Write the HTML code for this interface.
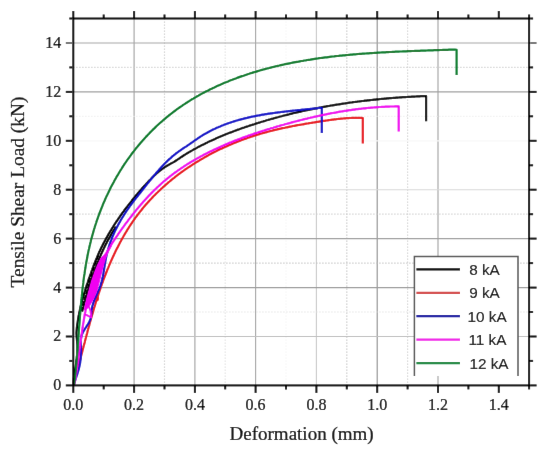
<!DOCTYPE html><html><head><meta charset="utf-8"><style>html,body{margin:0;padding:0;background:#fff}svg{display:block}</style></head><body>
<svg width="550" height="454" viewBox="0 0 550 454">
<defs><filter id="soft" x="0" y="0" width="100%" height="100%"><feConvolveMatrix order="3" kernelMatrix="0.00163 0.03713 0.00163 0.03713 0.84497 0.03713 0.00163 0.03713 0.00163" divisor="1" edgeMode="duplicate" preserveAlpha="true"/></filter></defs>
<g filter="url(#soft)">
<rect width="550" height="454" fill="#fff"/>
<g><line x1="134.1" y1="18.5" x2="134.1" y2="385.4" stroke="#a4a4a4" stroke-width="1.15"/><line x1="194.9" y1="18.5" x2="194.9" y2="385.4" stroke="#a4a4a4" stroke-width="1.15"/><line x1="255.6" y1="18.5" x2="255.6" y2="385.4" stroke="#a8a8a8" stroke-width="1.15"/><line x1="316.4" y1="18.5" x2="316.4" y2="385.4" stroke="#cccccc" stroke-width="1.15"/><line x1="377.2" y1="18.5" x2="377.2" y2="385.4" stroke="#909090" stroke-width="1.15"/><line x1="438.0" y1="18.5" x2="438.0" y2="385.4" stroke="#a4a4a4" stroke-width="1.15"/><line x1="164.5" y1="18.5" x2="164.5" y2="385.4" stroke="#cccccc" stroke-width="1.2" stroke-dasharray="1.2 1.8"/><line x1="225.2" y1="18.5" x2="225.2" y2="385.4" stroke="#e0e0e0" stroke-width="1.2" stroke-dasharray="1.2 1.8"/><line x1="286.0" y1="18.5" x2="286.0" y2="385.4" stroke="#f4f4f4" stroke-width="1.2" stroke-dasharray="1.2 1.8"/><line x1="346.8" y1="18.5" x2="346.8" y2="385.4" stroke="#c4c4c4" stroke-width="1.2" stroke-dasharray="1.2 1.8"/><line x1="407.6" y1="18.5" x2="407.6" y2="385.4" stroke="#d0d0d0" stroke-width="1.2" stroke-dasharray="1.2 1.8"/><line x1="73.3" y1="336.5" x2="529.1" y2="336.5" stroke="#c0c0c0" stroke-width="1.15"/><line x1="73.3" y1="287.6" x2="529.1" y2="287.6" stroke="#9c9c9c" stroke-width="1.15"/><line x1="73.3" y1="238.6" x2="529.1" y2="238.6" stroke="#a0a0a0" stroke-width="1.15"/><line x1="73.3" y1="189.7" x2="529.1" y2="189.7" stroke="#d8d8d8" stroke-width="1.15"/><line x1="73.3" y1="140.8" x2="529.1" y2="140.8" stroke="#f7f7f7" stroke-width="1.15"/><line x1="73.3" y1="91.9" x2="529.1" y2="91.9" stroke="#a0a0a0" stroke-width="1.15"/><line x1="73.3" y1="43.0" x2="529.1" y2="43.0" stroke="#a8a8a8" stroke-width="1.15"/><line x1="73.3" y1="312.0" x2="529.1" y2="312.0" stroke="#e0e0e0" stroke-width="1.2" stroke-dasharray="1.2 1.8"/><line x1="73.3" y1="263.1" x2="529.1" y2="263.1" stroke="#c0c0c0" stroke-width="1.2" stroke-dasharray="1.2 1.8"/><line x1="73.3" y1="214.2" x2="529.1" y2="214.2" stroke="#cccccc" stroke-width="1.2" stroke-dasharray="1.2 1.8"/><line x1="73.3" y1="116.3" x2="529.1" y2="116.3" stroke="#efefef" stroke-width="1.2" stroke-dasharray="1.2 1.8"/><line x1="73.3" y1="67.4" x2="529.1" y2="67.4" stroke="#cccccc" stroke-width="1.2" stroke-dasharray="1.2 1.8"/></g>
<rect x="414.4" y="256.5" width="103.6" height="119.5" fill="#fff"/>
<path d="M414.4,376.0 L414.4,256.5 L518.0,256.5 L518.0,376.0" fill="none" stroke="#555" stroke-width="1.5"/>
<g><path d="M73.3,385.5 L73.4,384.2 L73.5,382.9 L73.6,381.6 L73.7,380.3 L73.8,379.1 L74.0,377.8 L74.1,376.5 L74.3,375.2 L74.5,373.9 L74.7,372.6 L74.9,371.3 L75.1,370.0 L75.3,368.7 L75.5,367.4 L75.7,366.1 L75.9,364.8 L76.1,363.5 L76.3,362.2 L76.4,360.9 L76.6,359.6 L76.8,358.3 L76.9,357.0 L77.1,355.6 L77.2,354.3 L77.3,353.1 L77.3,351.8 L77.4,350.5 L77.4,349.2 L77.4,347.9 L77.4,346.6 L77.4,345.3 L77.3,344.0 L77.2,342.7 L77.1,341.4 L77.0,340.1 L76.9,338.9 L76.7,337.6 L76.6,336.3 L76.6,335.0 L76.5,333.8 L76.5,332.5 L76.6,331.2 L76.7,329.9 L76.8,328.7 L76.9,327.4 L77.1,326.1 L77.2,324.9 L77.4,323.6 L77.6,322.3 L77.8,321.1 L78.0,319.8 L78.2,318.5 L78.4,317.2 L78.6,316.0 L78.9,314.7 L79.1,313.4 L79.4,312.1 L79.7,310.9 L80.0,309.6 L80.2,308.3 L80.5,307.1 L80.8,305.8 L81.2,304.5 L81.5,303.3 L81.8,302.0 L82.1,300.7 L82.5,299.5 L82.8,298.2 L83.2,296.9 L83.6,295.7 L83.9,294.4 L84.3,293.1 L84.7,291.9 L85.1,290.6 L85.4,289.4 L85.8,288.1 L86.2,286.9 L86.6,285.6 L87.0,284.4 L87.5,283.1 L87.9,281.9 L88.3,280.6 L88.7,279.4 L89.1,278.2 L89.6,276.9 L90.0,275.7 L90.4,274.5 L90.9,273.3 L91.3,272.0 L91.7,270.8 L92.2,269.6 L92.6,268.4 L93.1,267.2 L93.5,266.0 L94.0,264.7 L94.5,263.5 L94.9,262.3 L95.4,261.1 L95.9,259.9 L96.4,258.7 L96.9,257.6 L97.4,256.4 L97.9,255.2 L98.4,254.0 L98.9,252.8 L99.5,251.6 L100.0,250.5 L100.6,249.3 L101.1,248.1 L101.7,246.9 L102.3,245.8 L102.9,244.6 L103.4,243.4 L104.1,242.3 L104.7,241.1 L105.3,240.0 L105.9,238.8 L106.6,237.7 L107.2,236.5 L107.9,235.4 L108.5,234.2 L109.2,233.1 L109.8,232.0 L110.5,230.9 L111.2,229.8 L111.9,228.6 L112.6,227.5 L113.3,226.4 L114.0,225.3 L114.7,224.2 L115.4,223.1 L116.1,222.0 L116.8,221.0 L117.6,219.9 L118.3,218.8 L119.0,217.7 L119.8,216.7 L120.5,215.6 L121.3,214.5 L122.0,213.5 L122.8,212.4 L123.6,211.4 L124.3,210.3 L125.1,209.3 L125.9,208.2 L126.7,207.2 L127.5,206.2 L128.3,205.1 L129.1,204.1 L129.9,203.1 L130.7,202.1 L131.5,201.1 L132.3,200.0 L133.1,199.0 L133.9,198.0 L134.8,197.0 L135.6,196.0 L136.4,195.0 L137.3,194.0 L138.1,193.0 L139.0,192.0 L139.8,191.0 L140.7,190.1 L141.5,189.1 L142.4,188.1 L143.3,187.1 L144.1,186.1 L145.0,185.2 L145.9,184.2 L146.8,183.2 L147.7,182.3 L148.6,181.3 L149.5,180.4 L150.4,179.5 L151.3,178.5 L152.2,177.6 L153.2,176.7 L154.1,175.8 L155.1,174.9 L156.0,174.0 L157.0,173.2 L158.0,172.3 L159.0,171.5 L160.0,170.7 L161.0,169.9 L162.0,169.1 L163.1,168.4 L164.2,167.6 L165.2,166.9 L166.3,166.2 L167.4,165.5 L168.6,164.9 L169.7,164.2 L170.8,163.6 L172.0,163.0 L173.1,162.4 L174.3,161.7 L175.4,161.0 L176.5,160.3 L177.5,159.6 L178.6,158.9 L179.7,158.2 L180.7,157.4 L181.8,156.7 L182.9,156.0 L184.0,155.3 L185.1,154.6 L186.2,153.9 L187.3,153.2 L188.5,152.5 L189.6,151.9 L190.7,151.2 L191.8,150.6 L193.0,149.9 L194.1,149.3 L195.3,148.7 L196.4,148.1 L197.6,147.4 L198.7,146.8 L199.9,146.2 L201.0,145.6 L202.2,145.0 L203.4,144.4 L204.5,143.9 L205.7,143.3 L206.9,142.7 L208.0,142.1 L209.2,141.6 L210.4,141.0 L211.6,140.5 L212.8,139.9 L213.9,139.4 L215.1,138.9 L216.3,138.3 L217.5,137.8 L218.7,137.3 L219.9,136.8 L221.1,136.3 L222.3,135.8 L223.5,135.3 L224.7,134.8 L225.9,134.3 L227.1,133.8 L228.4,133.3 L229.6,132.8 L230.8,132.4 L232.0,131.9 L233.2,131.4 L234.4,131.0 L235.7,130.5 L236.9,130.1 L238.1,129.6 L239.3,129.2 L240.6,128.7 L241.8,128.3 L243.0,127.9 L244.3,127.5 L245.5,127.0 L246.7,126.6 L248.0,126.2 L249.2,125.8 L250.4,125.4 L251.7,125.0 L252.9,124.6 L254.2,124.2 L255.4,123.8 L256.6,123.4 L257.9,123.0 L259.1,122.6 L260.4,122.2 L261.6,121.8 L262.9,121.5 L264.1,121.1 L265.4,120.7 L266.6,120.3 L267.9,120.0 L269.1,119.6 L270.4,119.3 L271.6,118.9 L272.9,118.6 L274.1,118.2 L275.4,117.9 L276.7,117.5 L277.9,117.2 L279.2,116.8 L280.4,116.5 L281.7,116.2 L283.0,115.8 L284.2,115.5 L285.5,115.2 L286.8,114.9 L288.0,114.6 L289.3,114.3 L290.5,113.9 L291.8,113.6 L293.1,113.3 L294.4,113.0 L295.6,112.7 L296.9,112.4 L298.2,112.1 L299.4,111.9 L300.7,111.6 L302.0,111.3 L303.3,111.0 L304.5,110.7 L305.8,110.4 L307.1,110.2 L308.4,109.9 L309.6,109.6 L310.9,109.4 L312.2,109.1 L313.5,108.9 L314.7,108.6 L316.0,108.3 L317.3,108.1 L318.6,107.8 L319.9,107.6 L321.1,107.4 L322.4,107.1 L323.7,106.9 L325.0,106.7 L326.3,106.4 L327.6,106.2 L328.8,106.0 L330.1,105.7 L331.4,105.5 L332.7,105.3 L334.0,105.1 L335.3,104.9 L336.6,104.7 L337.8,104.5 L339.1,104.3 L340.4,104.1 L341.7,103.9 L343.0,103.7 L344.3,103.5 L345.6,103.3 L346.9,103.1 L348.2,102.9 L349.5,102.7 L350.8,102.5 L352.0,102.4 L353.3,102.2 L354.6,102.0 L355.9,101.8 L357.2,101.7 L358.5,101.5 L359.8,101.3 L361.1,101.2 L362.4,101.0 L363.7,100.9 L365.0,100.7 L366.3,100.6 L367.6,100.4 L368.9,100.3 L370.2,100.1 L371.5,100.0 L372.8,99.8 L374.1,99.7 L375.4,99.6 L376.7,99.4 L378.0,99.3 L379.3,99.2 L380.6,99.0 L381.9,98.9 L383.2,98.8 L384.5,98.7 L385.8,98.6 L387.1,98.4 L388.4,98.3 L389.7,98.2 L391.0,98.1 L392.3,98.0 L393.6,97.9 L394.9,97.8 L396.2,97.7 L397.5,97.6 L398.8,97.5 L400.1,97.4 L401.4,97.3 L402.7,97.2 L404.0,97.2 L405.3,97.1 L406.6,97.0 L407.9,96.9 L409.2,96.8 L410.5,96.8 L411.8,96.7 L413.1,96.6 L414.4,96.6 L415.7,96.5 L417.0,96.4 L418.3,96.4 L419.6,96.3 L420.9,96.2 L422.2,96.2 L423.5,96.1 L424.8,96.1 L426.1,96.2 L426.1,121.3" fill="none" stroke="#000000" stroke-width="2.2" stroke-linejoin="round"/><path d="M82.0,311.5 L82.3,310.8 L82.5,310.1 L82.7,309.3 L82.9,308.6 L83.1,307.8 L83.3,307.1 L83.5,306.3 L83.7,305.6 L83.9,304.8 L84.1,304.1 L84.3,303.3 L84.5,302.6 L84.7,301.8 L84.9,301.1 L85.2,300.3 L85.4,299.6 L85.6,298.8 L85.8,298.1 L86.0,297.4 L86.2,296.6 L86.4,295.9 L86.6,295.1 L86.9,294.4 L87.1,293.6 L87.3,292.9 L87.5,292.2 L87.7,291.4 L87.9,290.7 L88.2,289.9 L88.4,289.2 L88.6,288.5 L88.8,287.7 L89.1,287.0 L89.3,286.2 L89.5,285.5 L89.8,284.8 L90.0,284.0 L90.2,283.3 L90.5,282.6 L90.7,281.8 L90.9,281.1 L91.2,280.4 L91.4,279.6 L91.7,278.9 L91.9,278.2 L92.2,277.4 L92.4,276.7 L92.6,276.0 L92.9,275.3 L93.2,274.5 L93.4,273.8 L93.7,273.1 L93.9,272.4 L94.2,271.6 L94.4,270.9 L94.7,270.2 L95.0,269.5 L95.2,268.7 L95.5,268.0 L95.8,267.3 L96.1,266.6 L96.3,265.9 L96.6,265.1 L96.9,264.4 L97.2,263.7 L97.5,263.0 L97.7,262.3 L98.0,261.6 L98.3,260.9 L98.6,260.1 L98.9,259.4 L99.2,258.7 L99.5,258.0 L99.8,257.3 L100.1,256.6 L100.4,255.9 L100.7,255.2 L101.0,254.5 L101.3,253.8 L101.7,253.1 L102.0,252.4 L102.3,251.7 L102.6,251.0 L102.9,250.3 L103.3,249.6 L103.6,248.9 L103.9,248.2 L104.3,247.5 L104.6,246.8 L104.9,246.1 L105.3,245.4 L105.6,244.7 L106.0,244.1 L106.3,243.4 L106.7,242.7 L107.0,242.0 L107.4,241.3 L107.8,240.6 L108.1,239.9 L108.5,239.3 L108.9,238.6 L109.2,237.9 L109.6,237.2 L110.0,236.6 L110.4,235.9 L110.8,235.2 L111.1,234.5 L111.5,233.9 L111.9,233.2 L112.3,232.5 L112.7,231.9 L113.1,231.2 L113.5,230.5 L114.0,229.9 L114.4,229.2 L114.8,228.6 L115.2,227.9 L115.6,227.2 L115.8,226.5" fill="none" stroke="#000" stroke-width="2.2" stroke-linejoin="round"/><path d="M80.6,311.5 L80.7,310.7 L80.9,310.0 L81.2,309.3 L81.4,308.6 L81.7,307.9 L81.9,307.2 L82.1,306.5 L82.3,305.7 L82.6,305.0 L82.8,304.3 L83.0,303.6 L83.2,302.9 L83.5,302.2 L83.7,301.4 L83.9,300.7 L84.1,300.0 L84.3,299.3 L84.6,298.5 L84.8,297.8 L85.0,297.1 L85.2,296.4 L85.4,295.7 L85.6,294.9 L85.8,294.2 L86.0,293.5 L86.2,292.8 L86.4,292.0 L86.7,291.3 L86.9,290.6 L87.1,289.9 L87.3,289.1 L87.5,288.4 L87.7,287.7 L87.9,287.0 L88.1,286.2 L88.3,285.5 L88.5,284.8 L88.7,284.1 L88.9,283.3 L89.2,282.6 L89.4,281.9 L89.6,281.2 L89.8,280.5 L90.0,279.7 L90.2,279.0 L90.4,278.3 L90.7,277.6 L90.9,276.9 L91.1,276.1 L91.3,275.4 L91.5,274.7 L91.8,274.0 L92.0,273.3 L92.2,272.5 L92.5,271.8 L92.7,271.1 L92.9,270.4 L93.2,269.7 L93.4,269.0 L93.6,268.3 L93.9,267.6 L94.1,266.8 L94.4,266.1 L94.6,265.4 L94.9,264.7 L95.1,264.0 L95.4,263.3 L95.7,262.6 L95.9,261.9 L96.2,261.2 L96.5,260.5 L96.7,259.8 L97.0,259.1 L97.3,258.4 L97.6,257.7 L97.9,257.0 L98.2,256.3 L98.5,255.6 L98.9,255.0" fill="none" stroke="#000" stroke-width="1.6" stroke-dasharray="5 1" stroke-linejoin="round"/><path d="M73.3,385.5 L73.3,384.4 L73.6,383.4 L73.9,382.3 L74.2,381.2 L74.5,380.2 L74.8,379.1 L75.1,378.0 L75.4,377.0 L75.7,375.9 L76.0,374.9 L76.3,373.8 L76.6,372.7 L76.9,371.7 L77.2,370.6 L77.5,369.5 L77.8,368.5 L78.1,367.4 L78.3,366.4 L78.6,365.3 L78.9,364.2 L79.2,363.2 L79.5,362.1 L79.8,361.0 L80.0,360.0 L80.3,358.9 L80.6,357.9 L80.9,356.8 L81.2,355.7 L81.4,354.7 L81.7,353.6 L82.0,352.6 L82.3,351.5 L82.5,350.5 L82.8,349.4 L83.1,348.3 L83.4,347.3 L83.6,346.2 L83.9,345.2 L84.2,344.1 L84.5,343.1 L84.8,342.0 L85.0,340.9 L85.3,339.9 L85.6,338.8 L85.9,337.8 L86.1,336.7 L86.4,335.7 L86.7,334.6 L87.0,333.6 L87.3,332.5 L87.5,331.5 L87.8,330.4 L88.1,329.4 L88.4,328.3 L88.7,327.3 L89.0,326.2 L89.3,325.2 L89.5,324.1 L89.8,323.1 L90.1,322.0 L90.4,320.9 L90.7,319.9 L91.0,318.8 L91.3,317.8 L91.6,316.8 L91.9,315.7 L92.2,314.7 L92.5,313.6 L92.8,312.6 L93.1,311.5 L93.4,310.5 L93.7,309.4 L94.0,308.4 L94.3,307.3 L94.7,306.3 L95.0,305.2 L95.3,304.2 L95.6,303.1 L95.9,302.1 L96.3,301.0 L96.6,300.0 L96.9,299.0 L97.3,297.9 L97.6,296.9 L97.9,295.8 L98.3,294.8 L98.6,293.7 L99.0,292.7 L99.3,291.6 L99.7,290.6 L100.0,289.6 L100.4,288.5 L100.7,287.5 L101.1,286.4 L101.5,285.4 L101.8,284.4 L102.2,283.3 L102.6,282.3 L103.0,281.3 L103.3,280.2 L103.7,279.2 L104.1,278.2 L104.5,277.1 L104.9,276.1 L105.3,275.1 L105.7,274.0 L106.1,273.0 L106.5,272.0 L106.9,271.0 L107.3,269.9 L107.7,268.9 L108.2,267.9 L108.6,266.9 L109.0,265.9 L109.4,264.8 L109.9,263.8 L110.3,262.8 L110.7,261.8 L111.2,260.8 L111.6,259.8 L112.1,258.8 L112.5,257.8 L113.0,256.8 L113.5,255.8 L113.9,254.8 L114.4,253.8 L114.9,252.8 L115.3,251.8 L115.8,250.8 L116.3,249.8 L116.8,248.8 L117.3,247.9 L117.8,246.9 L118.3,245.9 L118.8,244.9 L119.3,244.0 L119.8,243.0 L120.3,242.0 L120.9,241.1 L121.4,240.1 L121.9,239.1 L122.4,238.2 L123.0,237.2 L123.5,236.3 L124.1,235.3 L124.6,234.4 L125.2,233.4 L125.7,232.5 L126.3,231.6 L126.9,230.6 L127.4,229.7 L128.0,228.8 L128.6,227.9 L129.2,226.9 L129.8,226.0 L130.4,225.1 L131.0,224.2 L131.6,223.3 L132.2,222.4 L132.8,221.5 L133.4,220.6 L134.1,219.7 L134.7,218.8 L135.3,217.9 L136.0,217.1 L136.6,216.2 L137.3,215.3 L137.9,214.4 L138.6,213.6 L139.2,212.7 L139.9,211.9 L140.6,211.0 L141.3,210.2 L142.0,209.3 L142.6,208.5 L143.3,207.6 L144.0,206.8 L144.7,206.0 L145.5,205.1 L146.2,204.3 L146.9,203.5 L147.6,202.7 L148.3,201.9 L149.1,201.1 L149.8,200.3 L150.5,199.5 L151.3,198.7 L152.0,197.9 L152.8,197.1 L153.5,196.3 L154.3,195.5 L155.1,194.8 L155.8,194.0 L156.6,193.2 L157.4,192.5 L158.2,191.7 L159.0,191.0 L159.8,190.2 L160.6,189.5 L161.3,188.7 L162.2,188.0 L163.0,187.2 L163.8,186.5 L164.6,185.8 L165.4,185.1 L166.2,184.3 L167.1,183.6 L167.9,182.9 L168.7,182.2 L169.6,181.5 L170.4,180.8 L171.2,180.1 L172.1,179.4 L172.9,178.7 L173.8,178.1 L174.7,177.4 L175.5,176.7 L176.4,176.0 L177.2,175.4 L178.1,174.7 L179.0,174.0 L179.9,173.4 L180.8,172.7 L181.6,172.1 L182.5,171.5 L183.4,170.8 L184.3,170.2 L185.2,169.5 L186.1,168.9 L187.0,168.3 L187.9,167.7 L188.8,167.1 L189.8,166.5 L190.7,165.9 L191.6,165.3 L192.5,164.7 L193.4,164.1 L194.4,163.5 L195.3,162.9 L196.2,162.3 L197.2,161.7 L198.1,161.2 L199.1,160.6 L200.0,160.0 L200.9,159.5 L201.9,158.9 L202.9,158.4 L203.8,157.8 L204.8,157.3 L205.7,156.7 L206.7,156.2 L207.7,155.7 L208.6,155.1 L209.6,154.6 L210.6,154.1 L211.5,153.6 L212.5,153.1 L213.5,152.6 L214.5,152.1 L215.5,151.6 L216.4,151.1 L217.4,150.6 L218.4,150.1 L219.4,149.6 L220.4,149.1 L221.4,148.7 L222.4,148.2 L223.4,147.7 L224.4,147.3 L225.4,146.8 L226.4,146.4 L227.4,145.9 L228.4,145.5 L229.4,145.0 L230.5,144.6 L231.5,144.2 L232.5,143.7 L233.5,143.3 L234.5,142.9 L235.5,142.5 L236.6,142.1 L237.6,141.7 L238.6,141.3 L239.6,140.9 L240.7,140.5 L241.7,140.1 L242.7,139.7 L243.8,139.3 L244.8,138.9 L245.8,138.6 L246.9,138.2 L247.9,137.8 L248.9,137.5 L250.0,137.1 L251.0,136.8 L252.1,136.4 L253.1,136.1 L254.1,135.8 L255.2,135.4 L256.2,135.1 L257.3,134.8 L258.3,134.5 L259.4,134.1 L260.4,133.8 L261.5,133.5 L262.5,133.2 L263.6,132.9 L264.6,132.6 L265.7,132.3 L266.7,132.1 L267.8,131.8 L268.8,131.5 L269.9,131.2 L271.0,131.0 L272.0,130.7 L273.1,130.4 L274.1,130.2 L275.2,129.9 L276.2,129.7 L277.3,129.4 L278.4,129.2 L279.4,128.9 L280.5,128.7 L281.6,128.4 L282.6,128.2 L283.7,128.0 L284.8,127.8 L285.8,127.5 L286.9,127.3 L287.9,127.1 L289.0,126.9 L290.1,126.7 L291.2,126.5 L292.2,126.2 L293.3,126.0 L294.4,125.8 L295.4,125.6 L296.5,125.4 L297.6,125.2 L298.7,125.0 L299.7,124.8 L300.8,124.7 L301.9,124.5 L303.0,124.3 L304.0,124.1 L305.1,123.9 L306.2,123.7 L307.3,123.5 L308.3,123.4 L309.4,123.2 L310.5,123.0 L311.6,122.8 L312.7,122.6 L313.7,122.5 L314.8,122.3 L315.9,122.1 L317.0,121.9 L318.1,121.8 L319.1,121.6 L320.2,121.4 L321.3,121.3 L322.4,121.1 L323.5,120.9 L324.6,120.8 L325.6,120.6 L326.7,120.5 L327.8,120.3 L328.9,120.1 L330.0,120.0 L331.1,119.8 L332.2,119.7 L333.3,119.6 L334.3,119.4 L335.4,119.3 L336.5,119.2 L337.6,119.0 L338.7,118.9 L339.8,118.8 L340.9,118.7 L342.0,118.6 L343.1,118.5 L344.2,118.4 L345.3,118.3 L346.4,118.2 L347.4,118.2 L348.5,118.1 L349.6,118.0 L350.7,118.0 L351.8,117.9 L352.9,117.9 L354.0,117.8 L355.1,117.8 L356.2,117.8 L357.3,117.8 L358.4,117.8 L359.5,117.8 L360.6,117.8 L361.7,117.8 L362.8,118.0 L362.8,143.5" fill="none" stroke="#e8141e" stroke-width="2.2" stroke-linejoin="round"/><ellipse cx="97.2" cy="298" rx="1.8" ry="3.2" fill="#e8141e"/><path d="M73.3,385.5 L73.6,384.5 L74.0,383.5 L74.3,382.6 L74.7,381.6 L75.0,380.6 L75.4,379.6 L75.7,378.6 L76.1,377.6 L76.4,376.6 L76.8,375.6 L77.1,374.6 L77.4,373.6 L77.7,372.6 L78.0,371.6 L78.3,370.6 L78.6,369.6 L78.9,368.6 L79.1,367.6 L79.4,366.5 L79.6,365.5 L79.8,364.5 L80.0,363.5 L80.2,362.4 L80.3,361.4 L80.5,360.4 L80.6,359.4 L80.7,358.3 L80.8,357.3 L80.9,356.3 L80.9,355.2 L81.0,354.2 L81.0,353.1 L81.0,352.1 L81.1,351.0 L81.1,350.0 L81.0,348.9 L81.0,347.9 L81.0,346.8 L81.0,345.7 L80.9,344.7 L80.9,343.6 L80.9,342.6 L80.9,341.5 L80.9,340.4 L80.9,339.4 L81.0,338.4 L81.2,337.4 L81.4,336.4 L81.7,335.4 L82.0,334.4 L82.4,333.5 L82.8,332.5 L83.3,331.6 L83.8,330.7 L84.4,329.8 L84.9,328.9 L85.5,328.0 L86.1,327.1 L86.6,326.2 L87.2,325.3 L87.8,324.4 L88.3,323.6 L88.8,322.7 L89.3,321.8 L89.7,320.9 L90.1,320.0 L90.4,319.1 L90.7,318.1 L90.9,317.2 L91.1,316.2 L91.2,315.3 L91.3,314.3 L91.3,313.3 L91.4,312.3 L91.5,311.3 L91.6,310.3 L91.8,309.3 L91.9,308.3 L92.1,307.3 L92.3,306.3 L92.6,305.3 L92.9,304.4 L93.2,303.4 L93.5,302.4 L93.9,301.4 L94.2,300.4 L94.6,299.5 L95.0,298.5 L95.4,297.5 L95.9,296.6 L96.3,295.6 L96.7,294.6 L97.2,293.7 L97.6,292.7 L98.0,291.7 L98.4,290.7 L98.9,289.8 L99.3,288.8 L99.6,287.8 L100.0,286.8 L100.4,285.8 L100.7,284.8 L101.0,283.8 L101.3,282.8 L101.6,281.8 L101.8,280.8 L102.1,279.8 L102.3,278.7 L102.5,277.7 L102.8,276.7 L103.0,275.7 L103.2,274.6 L103.4,273.6 L103.5,272.6 L103.7,271.5 L103.9,270.5 L104.1,269.5 L104.2,268.4 L104.4,267.4 L104.6,266.4 L104.7,265.3 L104.9,264.3 L105.1,263.3 L105.2,262.2 L105.4,261.2 L105.6,260.2 L105.8,259.1 L106.0,258.1 L106.2,257.1 L106.4,256.1 L106.6,255.0 L106.9,254.0 L107.1,253.0 L107.4,252.0 L107.6,251.0 L107.9,250.0 L108.2,249.0 L108.5,248.0 L108.8,247.0 L109.1,246.0 L109.4,245.0 L109.8,244.0 L110.1,243.0 L110.5,242.0 L110.8,241.0 L111.2,240.1 L111.6,239.1 L111.9,238.1 L112.3,237.1 L112.7,236.2 L113.2,235.2 L113.6,234.2 L114.0,233.3 L114.4,232.3 L114.9,231.4 L115.3,230.4 L115.8,229.5 L116.3,228.5 L116.7,227.6 L117.2,226.7 L117.7,225.7 L118.2,224.8 L118.7,223.9 L119.2,223.0 L119.7,222.1 L120.2,221.2 L120.7,220.2 L121.3,219.3 L121.8,218.4 L122.4,217.5 L122.9,216.6 L123.5,215.8 L124.0,214.9 L124.6,214.0 L125.2,213.1 L125.8,212.2 L126.3,211.4 L126.9,210.5 L127.5,209.6 L128.1,208.8 L128.7,207.9 L129.3,207.1 L129.9,206.2 L130.5,205.4 L131.2,204.5 L131.8,203.7 L132.4,202.9 L133.0,202.0 L133.7,201.2 L134.3,200.4 L134.9,199.5 L135.6,198.7 L136.2,197.9 L136.9,197.1 L137.5,196.3 L138.2,195.4 L138.8,194.6 L139.5,193.8 L140.1,193.0 L140.8,192.2 L141.4,191.3 L142.1,190.5 L142.7,189.7 L143.4,188.9 L144.0,188.0 L144.7,187.2 L145.3,186.4 L146.0,185.6 L146.6,184.7 L147.3,183.9 L148.0,183.1 L148.6,182.3 L149.3,181.4 L149.9,180.6 L150.6,179.8 L151.2,179.0 L151.9,178.2 L152.6,177.3 L153.2,176.5 L153.9,175.7 L154.6,174.9 L155.3,174.1 L155.9,173.3 L156.6,172.5 L157.3,171.7 L158.0,170.9 L158.7,170.1 L159.4,169.3 L160.1,168.6 L160.8,167.8 L161.5,167.0 L162.2,166.2 L162.9,165.5 L163.6,164.7 L164.3,164.0 L165.1,163.2 L165.8,162.5 L166.5,161.8 L167.3,161.1 L168.0,160.3 L168.8,159.6 L169.5,158.9 L170.3,158.3 L171.1,157.6 L171.8,156.9 L172.6,156.2 L173.4,155.6 L174.2,154.9 L175.0,154.3 L175.8,153.6 L176.6,153.0 L177.5,152.4 L178.3,151.8 L179.1,151.2 L180.0,150.6 L180.8,150.0 L181.7,149.4 L182.5,148.8 L183.4,148.3 L184.2,147.7 L185.1,147.1 L186.0,146.6 L186.9,146.0 L187.7,145.4 L188.6,144.8 L189.5,144.2 L190.3,143.6 L191.2,143.0 L192.1,142.4 L192.9,141.8 L193.8,141.2 L194.6,140.6 L195.5,140.0 L196.4,139.4 L197.3,138.8 L198.1,138.2 L199.0,137.6 L199.9,137.0 L200.8,136.4 L201.7,135.9 L202.5,135.3 L203.4,134.8 L204.3,134.2 L205.2,133.7 L206.2,133.2 L207.1,132.7 L208.0,132.2 L208.9,131.7 L209.8,131.2 L210.7,130.7 L211.7,130.3 L212.6,129.8 L213.5,129.3 L214.5,128.9 L215.4,128.5 L216.4,128.0 L217.3,127.6 L218.3,127.2 L219.2,126.8 L220.2,126.4 L221.1,126.0 L222.1,125.6 L223.1,125.2 L224.0,124.8 L225.0,124.4 L226.0,124.1 L226.9,123.7 L227.9,123.4 L228.9,123.0 L229.9,122.7 L230.9,122.4 L231.9,122.0 L232.9,121.7 L233.9,121.4 L234.9,121.1 L235.9,120.8 L236.9,120.5 L237.9,120.2 L238.9,119.9 L239.9,119.7 L240.9,119.4 L241.9,119.1 L242.9,118.9 L243.9,118.6 L244.9,118.3 L245.9,118.1 L247.0,117.9 L248.0,117.6 L249.0,117.4 L250.0,117.2 L251.1,116.9 L252.1,116.7 L253.1,116.5 L254.1,116.3 L255.2,116.1 L256.2,115.9 L257.2,115.7 L258.3,115.5 L259.3,115.3 L260.4,115.1 L261.4,114.9 L262.4,114.7 L263.5,114.6 L264.5,114.4 L265.6,114.2 L266.6,114.1 L267.6,113.9 L268.7,113.7 L269.7,113.6 L270.8,113.4 L271.8,113.3 L272.9,113.1 L273.9,113.0 L275.0,112.8 L276.0,112.7 L277.0,112.6 L278.1,112.4 L279.1,112.3 L280.2,112.2 L281.2,112.0 L282.3,111.9 L283.3,111.8 L284.4,111.6 L285.4,111.5 L286.5,111.4 L287.5,111.3 L288.6,111.2 L289.6,111.1 L290.7,110.9 L291.7,110.8 L292.8,110.7 L293.8,110.6 L294.8,110.5 L295.9,110.4 L296.9,110.3 L298.0,110.2 L299.0,110.1 L300.1,110.0 L301.1,109.8 L302.1,109.7 L303.2,109.6 L304.2,109.5 L305.3,109.4 L306.3,109.3 L307.3,109.2 L308.4,109.1 L309.4,109.0 L310.4,108.9 L311.4,108.8 L312.5,108.7 L313.5,108.6 L314.5,108.5 L315.5,108.4 L316.6,108.3 L317.6,108.1 L318.6,108.0 L319.6,107.9 L320.6,107.8 L321.8,107.8 L321.8,132.9" fill="none" stroke="#1010c8" stroke-width="2.2" stroke-linejoin="round"/><path d="M73.3,385.5 L74.4,384.4 L74.6,383.3 L74.8,382.1 L75.1,380.9 L75.3,379.8 L75.5,378.6 L75.7,377.4 L75.8,376.2 L76.0,375.0 L76.2,373.9 L76.4,372.7 L76.6,371.5 L76.8,370.3 L76.9,369.1 L77.1,367.9 L77.3,366.7 L77.5,365.5 L77.6,364.4 L77.8,363.2 L78.0,362.0 L78.1,360.8 L78.3,359.6 L78.4,358.4 L78.6,357.2 L78.8,356.0 L78.9,354.8 L79.1,353.6 L79.2,352.4 L79.4,351.2 L79.5,350.0 L79.7,348.8 L79.9,347.6 L80.0,346.4 L80.2,345.2 L80.3,344.0 L80.5,342.8 L80.6,341.7 L80.8,340.5 L81.0,339.3 L81.1,338.1 L81.3,336.9 L81.4,335.7 L81.6,334.5 L81.8,333.3 L82.0,332.1 L82.1,330.9 L82.3,329.7 L82.5,328.5 L82.7,327.3 L82.8,326.1 L83.0,324.9 L83.2,323.7 L83.4,322.6 L83.6,321.4 L83.8,320.2 L84.0,319.0 L84.2,317.8 L84.4,316.6 L84.6,315.4 L84.8,314.3 L85.0,313.1 L85.3,311.9 L85.5,310.7 L85.7,309.6 L86.0,308.4 L86.2,307.2 L86.5,306.0 L86.7,304.9 L87.0,303.7 L87.2,302.5 L87.5,301.4 L87.8,300.2 L88.1,299.0 L88.3,297.9 L88.6,296.7 L88.9,295.6 L89.2,294.4 L89.6,293.3 L89.9,292.1 L90.2,291.0 L90.5,289.8 L90.9,288.7 L91.2,287.6 L91.6,286.4 L91.9,285.3 L92.3,284.2 L92.7,283.0 L93.1,281.9 L93.5,280.8 L93.9,279.6 L94.3,278.5 L94.7,277.4 L95.1,276.3 L95.6,275.2 L96.0,274.1 L96.5,273.0 L96.9,271.9 L97.4,270.8 L97.9,269.7 L98.4,268.6 L98.9,267.5 L99.4,266.4 L99.9,265.3 L100.4,264.3 L100.9,263.2 L101.5,262.1 L102.0,261.0 L102.5,260.0 L103.1,258.9 L103.7,257.8 L104.2,256.8 L104.8,255.7 L105.4,254.7 L106.0,253.6 L106.6,252.6 L107.2,251.5 L107.8,250.5 L108.4,249.4 L109.0,248.4 L109.7,247.3 L110.3,246.3 L110.9,245.3 L111.6,244.2 L112.2,243.2 L112.9,242.2 L113.5,241.2 L114.2,240.2 L114.8,239.1 L115.5,238.1 L116.2,237.1 L116.9,236.1 L117.6,235.1 L118.2,234.1 L118.9,233.1 L119.6,232.1 L120.3,231.1 L121.0,230.1 L121.7,229.1 L122.4,228.1 L123.2,227.2 L123.9,226.2 L124.6,225.2 L125.3,224.2 L126.0,223.2 L126.8,222.3 L127.5,221.3 L128.2,220.3 L128.9,219.4 L129.7,218.4 L130.4,217.4 L131.2,216.5 L131.9,215.5 L132.7,214.6 L133.4,213.6 L134.2,212.7 L134.9,211.7 L135.7,210.8 L136.4,209.9 L137.2,208.9 L138.0,208.0 L138.7,207.1 L139.5,206.2 L140.3,205.3 L141.1,204.3 L141.9,203.4 L142.7,202.5 L143.5,201.6 L144.3,200.7 L145.1,199.8 L145.9,199.0 L146.7,198.1 L147.5,197.2 L148.3,196.3 L149.1,195.4 L150.0,194.6 L150.8,193.7 L151.6,192.9 L152.5,192.0 L153.3,191.2 L154.2,190.3 L155.0,189.5 L155.9,188.7 L156.8,187.8 L157.6,187.0 L158.5,186.2 L159.4,185.4 L160.3,184.6 L161.2,183.8 L162.0,183.0 L162.9,182.2 L163.9,181.4 L164.8,180.7 L165.7,179.9 L166.6,179.1 L167.5,178.4 L168.5,177.6 L169.4,176.9 L170.3,176.1 L171.3,175.4 L172.2,174.7 L173.2,174.0 L174.1,173.2 L175.1,172.5 L176.1,171.8 L177.1,171.1 L178.0,170.4 L179.0,169.8 L180.0,169.1 L181.0,168.4 L182.0,167.7 L183.0,167.1 L184.0,166.4 L185.0,165.7 L186.0,165.1 L187.0,164.4 L188.0,163.8 L189.1,163.2 L190.1,162.5 L191.1,161.9 L192.2,161.3 L193.2,160.7 L194.2,160.1 L195.3,159.5 L196.3,158.9 L197.4,158.3 L198.4,157.7 L199.5,157.1 L200.5,156.5 L201.6,156.0 L202.7,155.4 L203.7,154.8 L204.8,154.3 L205.9,153.7 L206.9,153.2 L208.0,152.6 L209.1,152.1 L210.2,151.5 L211.3,151.0 L212.4,150.5 L213.4,150.0 L214.5,149.4 L215.6,148.9 L216.7,148.4 L217.8,147.9 L218.9,147.4 L220.0,146.9 L221.1,146.4 L222.2,145.9 L223.3,145.5 L224.4,145.0 L225.5,144.5 L226.6,144.0 L227.8,143.6 L228.9,143.1 L230.0,142.6 L231.1,142.2 L232.2,141.7 L233.3,141.3 L234.5,140.8 L235.6,140.4 L236.7,140.0 L237.8,139.5 L239.0,139.1 L240.1,138.7 L241.2,138.3 L242.3,137.8 L243.5,137.4 L244.6,137.0 L245.7,136.6 L246.9,136.2 L248.0,135.8 L249.1,135.4 L250.3,135.0 L251.4,134.6 L252.6,134.2 L253.7,133.8 L254.8,133.4 L256.0,133.1 L257.1,132.7 L258.3,132.3 L259.4,131.9 L260.6,131.6 L261.7,131.2 L262.9,130.8 L264.0,130.5 L265.2,130.1 L266.3,129.7 L267.5,129.4 L268.6,129.0 L269.8,128.7 L270.9,128.3 L272.1,128.0 L273.3,127.7 L274.4,127.3 L275.6,127.0 L276.7,126.6 L277.9,126.3 L279.0,126.0 L280.2,125.6 L281.4,125.3 L282.5,125.0 L283.7,124.7 L284.8,124.3 L286.0,124.0 L287.2,123.7 L288.3,123.4 L289.5,123.1 L290.7,122.7 L291.8,122.4 L293.0,122.1 L294.2,121.8 L295.3,121.5 L296.5,121.2 L297.7,120.9 L298.8,120.6 L300.0,120.3 L301.2,120.0 L302.3,119.7 L303.5,119.4 L304.7,119.1 L305.8,118.8 L307.0,118.6 L308.2,118.3 L309.4,118.0 L310.5,117.7 L311.7,117.5 L312.9,117.2 L314.0,116.9 L315.2,116.7 L316.4,116.4 L317.6,116.1 L318.7,115.9 L319.9,115.6 L321.1,115.4 L322.3,115.1 L323.5,114.9 L324.6,114.6 L325.8,114.4 L327.0,114.1 L328.2,113.9 L329.3,113.7 L330.5,113.4 L331.7,113.2 L332.9,113.0 L334.1,112.8 L335.3,112.6 L336.4,112.4 L337.6,112.1 L338.8,111.9 L340.0,111.7 L341.2,111.5 L342.4,111.3 L343.6,111.1 L344.7,110.9 L345.9,110.8 L347.1,110.6 L348.3,110.4 L349.5,110.2 L350.7,110.1 L351.9,109.9 L353.1,109.7 L354.3,109.6 L355.4,109.4 L356.6,109.2 L357.8,109.1 L359.0,108.9 L360.2,108.8 L361.4,108.7 L362.6,108.5 L363.8,108.4 L365.0,108.3 L366.2,108.1 L367.4,108.0 L368.6,107.9 L369.8,107.8 L371.0,107.7 L372.2,107.6 L373.4,107.5 L374.6,107.4 L375.8,107.3 L377.0,107.2 L378.2,107.1 L379.4,107.0 L380.6,107.0 L381.8,106.9 L383.0,106.8 L384.2,106.8 L385.4,106.7 L386.6,106.7 L387.8,106.6 L389.0,106.6 L390.3,106.5 L391.5,106.5 L392.7,106.5 L393.9,106.5 L395.1,106.4 L396.3,106.4 L397.5,106.4 L398.7,106.4 L398.7,131.5" fill="none" stroke="#f000f0" stroke-width="2.2" stroke-linejoin="round"/><path d="M111.0,246.0 L108.5,250.0 L104.5,254.0 L100.6,258.0 L97.0,265.0 L94.2,272.0 L91.0,281.0 L88.6,290.0 L86.4,298.0 L84.6,306.0 L83.8,310.0 L86.5,310.0 L90.5,305.0 L94.5,298.0 L97.7,290.0 L99.5,283.0 L101.3,275.6 L103.5,267.0 L106.2,258.0 L108.8,252.0 L112.0,246.0 Z" fill="#f000f0" stroke="none"/><path d="M84.2,313.8 L91.2,317.4 L90.6,311 L88.2,305" fill="none" stroke="#f000f0" stroke-width="2" stroke-linejoin="round"/><path d="M73.3,385.5 L74.2,383.9 L74.4,382.5 L74.5,381.0 L74.7,379.5 L74.9,378.1 L75.1,376.6 L75.2,375.1 L75.4,373.7 L75.5,372.2 L75.7,370.7 L75.8,369.2 L76.0,367.8 L76.1,366.3 L76.2,364.8 L76.4,363.3 L76.5,361.8 L76.6,360.4 L76.8,358.9 L76.9,357.4 L77.0,355.9 L77.1,354.4 L77.2,352.9 L77.4,351.5 L77.5,350.0 L77.6,348.5 L77.7,347.0 L77.8,345.5 L77.9,344.0 L78.0,342.5 L78.2,341.0 L78.3,339.5 L78.4,338.1 L78.5,336.6 L78.6,335.1 L78.7,333.6 L78.8,332.1 L78.9,330.6 L79.0,329.1 L79.1,327.6 L79.2,326.1 L79.4,324.6 L79.5,323.1 L79.6,321.6 L79.7,320.1 L79.8,318.6 L79.9,317.1 L80.0,315.6 L80.2,314.2 L80.3,312.7 L80.4,311.2 L80.5,309.7 L80.6,308.2 L80.8,306.7 L80.9,305.2 L81.0,303.7 L81.2,302.2 L81.3,300.7 L81.5,299.2 L81.6,297.7 L81.8,296.2 L81.9,294.8 L82.1,293.3 L82.2,291.8 L82.4,290.3 L82.5,288.8 L82.7,287.3 L82.9,285.8 L83.1,284.3 L83.3,282.9 L83.4,281.4 L83.6,279.9 L83.8,278.4 L84.0,276.9 L84.2,275.4 L84.5,274.0 L84.7,272.5 L84.9,271.0 L85.1,269.5 L85.4,268.1 L85.6,266.6 L85.8,265.1 L86.1,263.6 L86.3,262.2 L86.6,260.7 L86.9,259.2 L87.2,257.8 L87.4,256.3 L87.7,254.8 L88.0,253.4 L88.3,251.9 L88.6,250.4 L89.0,249.0 L89.3,247.5 L89.6,246.1 L90.0,244.6 L90.3,243.2 L90.7,241.7 L91.0,240.3 L91.4,238.8 L91.8,237.4 L92.2,235.9 L92.6,234.5 L93.0,233.1 L93.4,231.6 L93.8,230.2 L94.2,228.8 L94.7,227.3 L95.1,225.9 L95.6,224.5 L96.1,223.0 L96.5,221.6 L97.0,220.2 L97.5,218.8 L98.0,217.4 L98.5,216.0 L99.0,214.6 L99.5,213.2 L100.1,211.8 L100.6,210.4 L101.2,209.0 L101.7,207.6 L102.3,206.2 L102.8,204.8 L103.4,203.4 L104.0,202.0 L104.6,200.7 L105.2,199.3 L105.8,197.9 L106.4,196.6 L107.1,195.2 L107.7,193.9 L108.4,192.5 L109.0,191.2 L109.7,189.8 L110.3,188.5 L111.0,187.1 L111.7,185.8 L112.4,184.5 L113.1,183.2 L113.8,181.9 L114.5,180.5 L115.3,179.2 L116.0,177.9 L116.7,176.6 L117.5,175.3 L118.3,174.1 L119.0,172.8 L119.8,171.5 L120.6,170.2 L121.4,169.0 L122.2,167.7 L123.0,166.4 L123.8,165.2 L124.6,163.9 L125.5,162.7 L126.3,161.5 L127.2,160.2 L128.0,159.0 L128.9,157.8 L129.8,156.6 L130.7,155.4 L131.5,154.2 L132.4,153.0 L133.4,151.8 L134.3,150.6 L135.2,149.4 L136.1,148.3 L137.1,147.1 L138.0,146.0 L139.0,144.8 L139.9,143.7 L140.9,142.5 L141.9,141.4 L142.9,140.3 L143.9,139.2 L144.9,138.1 L145.9,136.9 L146.9,135.9 L147.9,134.8 L149.0,133.7 L150.0,132.6 L151.1,131.5 L152.1,130.5 L153.2,129.4 L154.3,128.4 L155.3,127.4 L156.4,126.3 L157.5,125.3 L158.6,124.3 L159.7,123.3 L160.8,122.3 L162.0,121.3 L163.1,120.3 L164.2,119.4 L165.4,118.4 L166.5,117.4 L167.7,116.5 L168.8,115.5 L170.0,114.6 L171.2,113.7 L172.3,112.8 L173.5,111.9 L174.7,111.0 L175.9,110.1 L177.1,109.2 L178.3,108.3 L179.5,107.5 L180.8,106.6 L182.0,105.8 L183.2,104.9 L184.5,104.1 L185.7,103.3 L187.0,102.5 L188.2,101.7 L189.5,100.9 L190.7,100.1 L192.0,99.3 L193.3,98.6 L194.6,97.8 L195.9,97.1 L197.2,96.3 L198.5,95.6 L199.8,94.8 L201.1,94.1 L202.4,93.4 L203.7,92.7 L205.0,92.0 L206.3,91.3 L207.7,90.7 L209.0,90.0 L210.3,89.3 L211.7,88.7 L213.0,88.0 L214.4,87.4 L215.7,86.8 L217.1,86.1 L218.4,85.5 L219.8,84.9 L221.2,84.3 L222.5,83.7 L223.9,83.1 L225.3,82.5 L226.7,82.0 L228.1,81.4 L229.4,80.8 L230.8,80.3 L232.2,79.8 L233.6,79.2 L235.0,78.7 L236.4,78.2 L237.8,77.6 L239.2,77.1 L240.6,76.6 L242.0,76.1 L243.5,75.7 L244.9,75.2 L246.3,74.7 L247.7,74.2 L249.1,73.8 L250.5,73.3 L252.0,72.9 L253.4,72.4 L254.8,72.0 L256.3,71.6 L257.7,71.1 L259.1,70.7 L260.6,70.3 L262.0,69.9 L263.4,69.5 L264.9,69.1 L266.3,68.7 L267.8,68.3 L269.2,68.0 L270.7,67.6 L272.1,67.2 L273.6,66.9 L275.0,66.5 L276.5,66.2 L277.9,65.8 L279.4,65.5 L280.8,65.1 L282.3,64.8 L283.8,64.5 L285.2,64.2 L286.7,63.9 L288.2,63.6 L289.6,63.3 L291.1,63.0 L292.6,62.7 L294.0,62.4 L295.5,62.1 L297.0,61.8 L298.5,61.6 L299.9,61.3 L301.4,61.0 L302.9,60.8 L304.4,60.5 L305.8,60.3 L307.3,60.0 L308.8,59.8 L310.3,59.6 L311.8,59.3 L313.3,59.1 L314.8,58.9 L316.2,58.7 L317.7,58.5 L319.2,58.2 L320.7,58.0 L322.2,57.8 L323.7,57.6 L325.2,57.4 L326.7,57.3 L328.2,57.1 L329.7,56.9 L331.2,56.7 L332.7,56.5 L334.2,56.4 L335.6,56.2 L337.1,56.0 L338.6,55.9 L340.1,55.7 L341.6,55.6 L343.1,55.4 L344.6,55.3 L346.1,55.1 L347.6,55.0 L349.1,54.8 L350.6,54.7 L352.1,54.6 L353.6,54.4 L355.1,54.3 L356.6,54.2 L358.1,54.0 L359.6,53.9 L361.1,53.8 L362.6,53.7 L364.1,53.6 L365.7,53.5 L367.2,53.4 L368.7,53.3 L370.2,53.2 L371.7,53.1 L373.2,53.0 L374.7,52.9 L376.2,52.8 L377.7,52.7 L379.2,52.6 L380.7,52.5 L382.2,52.4 L383.7,52.3 L385.2,52.3 L386.7,52.2 L388.2,52.1 L389.7,52.0 L391.2,52.0 L392.7,51.9 L394.2,51.8 L395.6,51.7 L397.1,51.7 L398.6,51.6 L400.1,51.5 L401.6,51.5 L403.1,51.4 L404.6,51.3 L406.1,51.3 L407.6,51.2 L409.1,51.2 L410.6,51.1 L412.1,51.0 L413.6,51.0 L415.0,50.9 L416.5,50.9 L418.0,50.8 L419.5,50.8 L421.0,50.7 L422.5,50.7 L424.0,50.6 L425.4,50.6 L426.9,50.5 L428.4,50.4 L429.9,50.4 L431.3,50.3 L432.8,50.3 L434.3,50.2 L435.8,50.2 L437.2,50.1 L438.7,50.1 L440.2,50.0 L441.6,50.0 L443.1,49.9 L444.6,49.9 L446.0,49.8 L447.5,49.8 L449.0,49.7 L450.4,49.7 L451.9,49.6 L453.3,49.6 L454.8,49.5 L456.6,49.9 L456.6,75.0" fill="none" stroke="#007d2c" stroke-width="2.2" stroke-linejoin="round"/></g>
<g stroke="#000" stroke-width="2"><rect x="73.3" y="18.5" width="455.8" height="366.9" fill="none" stroke="#000" stroke-width="2"/><line x1="73.3" y1="385.4" x2="73.3" y2="392.9"/><line x1="73.3" y1="18.5" x2="73.3" y2="11.0"/><line x1="103.7" y1="385.4" x2="103.7" y2="389.4"/><line x1="103.7" y1="18.5" x2="103.7" y2="14.5"/><line x1="134.1" y1="385.4" x2="134.1" y2="392.9"/><line x1="134.1" y1="18.5" x2="134.1" y2="11.0"/><line x1="164.5" y1="385.4" x2="164.5" y2="389.4"/><line x1="164.5" y1="18.5" x2="164.5" y2="14.5"/><line x1="194.9" y1="385.4" x2="194.9" y2="392.9"/><line x1="194.9" y1="18.5" x2="194.9" y2="11.0"/><line x1="225.2" y1="385.4" x2="225.2" y2="389.4"/><line x1="225.2" y1="18.5" x2="225.2" y2="14.5"/><line x1="255.6" y1="385.4" x2="255.6" y2="392.9"/><line x1="255.6" y1="18.5" x2="255.6" y2="11.0"/><line x1="286.0" y1="385.4" x2="286.0" y2="389.4"/><line x1="286.0" y1="18.5" x2="286.0" y2="14.5"/><line x1="316.4" y1="385.4" x2="316.4" y2="392.9"/><line x1="316.4" y1="18.5" x2="316.4" y2="11.0"/><line x1="346.8" y1="385.4" x2="346.8" y2="389.4"/><line x1="346.8" y1="18.5" x2="346.8" y2="14.5"/><line x1="377.2" y1="385.4" x2="377.2" y2="392.9"/><line x1="377.2" y1="18.5" x2="377.2" y2="11.0"/><line x1="407.6" y1="385.4" x2="407.6" y2="389.4"/><line x1="407.6" y1="18.5" x2="407.6" y2="14.5"/><line x1="438.0" y1="385.4" x2="438.0" y2="392.9"/><line x1="438.0" y1="18.5" x2="438.0" y2="11.0"/><line x1="468.4" y1="385.4" x2="468.4" y2="389.4"/><line x1="468.4" y1="18.5" x2="468.4" y2="14.5"/><line x1="498.8" y1="385.4" x2="498.8" y2="392.9"/><line x1="498.8" y1="18.5" x2="498.8" y2="11.0"/><line x1="529.1" y1="385.4" x2="529.1" y2="389.4"/><line x1="529.1" y1="18.5" x2="529.1" y2="14.5"/><line x1="72.3" y1="385.4" x2="65.8" y2="385.4"/><line x1="530.1" y1="385.4" x2="536.6" y2="385.4"/><line x1="72.3" y1="360.9" x2="69.3" y2="360.9"/><line x1="530.1" y1="360.9" x2="533.1" y2="360.9"/><line x1="72.3" y1="336.5" x2="65.8" y2="336.5"/><line x1="530.1" y1="336.5" x2="536.6" y2="336.5"/><line x1="72.3" y1="312.0" x2="69.3" y2="312.0"/><line x1="530.1" y1="312.0" x2="533.1" y2="312.0"/><line x1="72.3" y1="287.6" x2="65.8" y2="287.6"/><line x1="530.1" y1="287.6" x2="536.6" y2="287.6"/><line x1="72.3" y1="263.1" x2="69.3" y2="263.1"/><line x1="530.1" y1="263.1" x2="533.1" y2="263.1"/><line x1="72.3" y1="238.6" x2="65.8" y2="238.6"/><line x1="530.1" y1="238.6" x2="536.6" y2="238.6"/><line x1="72.3" y1="214.2" x2="69.3" y2="214.2"/><line x1="530.1" y1="214.2" x2="533.1" y2="214.2"/><line x1="72.3" y1="189.7" x2="65.8" y2="189.7"/><line x1="530.1" y1="189.7" x2="536.6" y2="189.7"/><line x1="72.3" y1="165.3" x2="69.3" y2="165.3"/><line x1="530.1" y1="165.3" x2="533.1" y2="165.3"/><line x1="72.3" y1="140.8" x2="65.8" y2="140.8"/><line x1="530.1" y1="140.8" x2="536.6" y2="140.8"/><line x1="72.3" y1="116.3" x2="69.3" y2="116.3"/><line x1="530.1" y1="116.3" x2="533.1" y2="116.3"/><line x1="72.3" y1="91.9" x2="65.8" y2="91.9"/><line x1="530.1" y1="91.9" x2="536.6" y2="91.9"/><line x1="72.3" y1="67.4" x2="69.3" y2="67.4"/><line x1="530.1" y1="67.4" x2="533.1" y2="67.4"/><line x1="72.3" y1="43.0" x2="65.8" y2="43.0" stroke="#777"/><line x1="530.1" y1="43.0" x2="536.6" y2="43.0" stroke="#777"/><line x1="72.3" y1="18.5" x2="69.3" y2="18.5"/><line x1="530.1" y1="18.5" x2="533.1" y2="18.5"/></g>
<g font-family="Liberation Serif, Times New Roman, serif" font-size="16" fill="#000" stroke="#000" stroke-width="0.22"><text x="73.3" y="409.6" text-anchor="middle">0.0</text><text x="134.1" y="409.6" text-anchor="middle">0.2</text><text x="194.9" y="409.6" text-anchor="middle">0.4</text><text x="255.6" y="409.6" text-anchor="middle">0.6</text><text x="316.4" y="409.6" text-anchor="middle">0.8</text><text x="377.2" y="409.6" text-anchor="middle">1.0</text><text x="438.0" y="409.6" text-anchor="middle">1.2</text><text x="498.8" y="409.6" text-anchor="middle">1.4</text><text x="61.2" y="390.3" text-anchor="end">0</text><text x="61.2" y="341.4" text-anchor="end">2</text><text x="61.2" y="292.5" text-anchor="end">4</text><text x="61.2" y="243.5" text-anchor="end">6</text><text x="61.2" y="194.6" text-anchor="end">8</text><text x="61.2" y="145.7" text-anchor="end">10</text><text x="61.2" y="96.8" text-anchor="end">12</text><text x="61.2" y="47.9" text-anchor="end">14</text></g>
<text x="301.6" y="439.6" text-anchor="middle" font-family="Liberation Serif, Times New Roman, serif" font-size="19" fill="#000" stroke="#000" stroke-width="0.22">Deformation (mm)</text>
<text transform="translate(23.6,192) rotate(-90)" x="0" y="0" text-anchor="middle" font-family="Liberation Serif, Times New Roman, serif" font-size="19.4" fill="#000" stroke="#000" stroke-width="0.22">Tensile Shear Load (kN)</text>
<g><line x1="416.4" y1="269.3" x2="460" y2="269.3" stroke="#000000" stroke-width="2.2"/><text x="469.2" y="274.9" font-family="Liberation Sans, Arial, sans-serif" font-size="15.3" fill="#000" stroke="#000" stroke-width="0.12">8 kA</text><line x1="416.4" y1="292.8" x2="460" y2="292.8" stroke="#d44848" stroke-width="2.2"/><text x="469.2" y="298.4" font-family="Liberation Sans, Arial, sans-serif" font-size="15.3" fill="#000" stroke="#000" stroke-width="0.12">9 kA</text><line x1="416.4" y1="316.2" x2="460" y2="316.2" stroke="#0c0ca4" stroke-width="2.2"/><text x="467.6" y="321.8" font-family="Liberation Sans, Arial, sans-serif" font-size="15.3" fill="#000" stroke="#000" stroke-width="0.12">10 kA</text><line x1="416.4" y1="339.6" x2="460" y2="339.6" stroke="#f020e8" stroke-width="2.2"/><text x="468.4" y="345.2" font-family="Liberation Sans, Arial, sans-serif" font-size="15.3" fill="#000" stroke="#000" stroke-width="0.12">11 kA</text><line x1="416.4" y1="363.1" x2="460" y2="363.1" stroke="#108a40" stroke-width="2.2"/><text x="469.4" y="368.7" font-family="Liberation Sans, Arial, sans-serif" font-size="15.3" fill="#000" stroke="#000" stroke-width="0.12">12 kA</text></g>
</g>
</svg></body></html>
